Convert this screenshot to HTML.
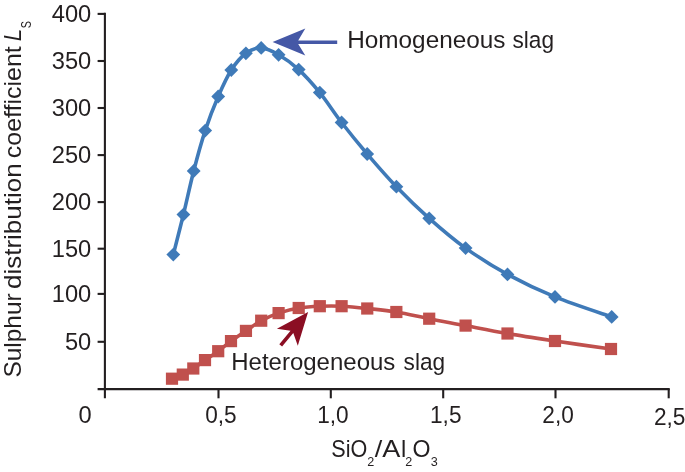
<!DOCTYPE html>
<html lang="en"><head><meta charset="utf-8"><title>Sulphur distribution coefficient</title>
<style>html,body{margin:0;padding:0;background:#fff}svg{display:block}</style></head>
<body>
<svg width="685" height="472" viewBox="0 0 685 472">
<rect width="685" height="472" fill="#fff"/>
<g stroke="#231f20" stroke-width="2.1" fill="none" stroke-linecap="butt">
<path d="M104.9 12.85V398.3"/>
<path d="M97.6 389.1H669.75"/>
<path d="M97.6 341.8H104.9"/>
<path d="M97.6 293.9H104.9"/>
<path d="M97.6 248.7H104.9"/>
<path d="M97.6 202.1H104.9"/>
<path d="M97.6 155.1H104.9"/>
<path d="M97.6 108.0H104.9"/>
<path d="M97.6 61.0H104.9"/>
<path d="M97.6 13.9H104.9"/>
<path d="M218.5 389.1V398.3"/>
<path d="M330.8 389.1V398.3"/>
<path d="M443.2 389.1V398.3"/>
<path d="M555.5 389.1V398.3"/>
<path d="M668.7 389.1V398.3"/>
</g>
<path d="M172.0 378.7C173.8 378.0 179.2 376.3 182.8 374.6C186.4 372.9 189.6 370.9 193.3 368.5C197.0 366.1 200.8 363.0 205.0 360.1C209.2 357.2 213.9 354.4 218.2 351.2C222.5 348.0 226.4 344.5 231.0 341.1C235.6 337.7 240.9 334.3 245.9 330.9C251.0 327.5 255.8 323.7 261.2 320.7C266.6 317.7 272.4 315.2 278.6 313.1C284.9 311.0 291.8 309.1 298.7 308.0C305.6 306.9 312.6 306.5 319.8 306.2C327.0 305.9 333.7 305.8 341.6 306.2C349.5 306.6 358.1 307.5 367.2 308.5C376.4 309.5 386.0 310.3 396.4 312.0C406.7 313.7 417.7 316.4 429.2 318.7C440.7 321.0 452.6 323.1 465.6 325.6C478.7 328.1 492.6 330.9 507.5 333.5C522.4 336.1 537.8 338.4 555.0 341.0C572.2 343.6 601.7 347.7 611.0 349.0" fill="none" stroke="#c0504d" stroke-width="3.6" stroke-linejoin="round"/>
<g fill="#c0504d">
<rect x="165.90" y="372.60" width="12.2" height="12.2"/>
<rect x="176.70" y="368.50" width="12.2" height="12.2"/>
<rect x="187.20" y="362.40" width="12.2" height="12.2"/>
<rect x="198.90" y="354.00" width="12.2" height="12.2"/>
<rect x="212.10" y="345.10" width="12.2" height="12.2"/>
<rect x="224.90" y="335.00" width="12.2" height="12.2"/>
<rect x="239.85" y="324.80" width="12.2" height="12.2"/>
<rect x="255.10" y="314.60" width="12.2" height="12.2"/>
<rect x="272.50" y="307.00" width="12.2" height="12.2"/>
<rect x="292.60" y="301.90" width="12.2" height="12.2"/>
<rect x="313.70" y="300.10" width="12.2" height="12.2"/>
<rect x="335.50" y="300.10" width="12.2" height="12.2"/>
<rect x="361.15" y="302.40" width="12.2" height="12.2"/>
<rect x="390.25" y="305.90" width="12.2" height="12.2"/>
<rect x="423.10" y="312.60" width="12.2" height="12.2"/>
<rect x="459.50" y="319.50" width="12.2" height="12.2"/>
<rect x="501.40" y="327.40" width="12.2" height="12.2"/>
<rect x="548.90" y="334.90" width="12.2" height="12.2"/>
<rect x="604.90" y="342.90" width="12.2" height="12.2"/>
</g>
<path d="M173.3 254.6C175.0 247.9 180.0 228.5 183.4 214.6C186.8 200.7 190.1 185.0 193.7 171.0C197.3 157.0 201.1 143.0 205.2 130.6C209.3 118.2 213.8 106.6 218.2 96.5C222.6 86.4 226.7 77.2 231.3 70.0C236.0 62.8 241.0 57.0 245.9 53.3C250.9 49.6 255.8 47.6 261.2 47.9C266.6 48.1 272.4 51.2 278.6 54.8C284.9 58.4 291.8 63.3 298.7 69.6C305.6 75.9 312.6 83.8 319.8 92.6C327.0 101.4 333.7 112.3 341.6 122.5C349.5 132.7 358.1 143.3 367.2 154.0C376.4 164.7 386.0 176.0 396.4 186.7C406.7 197.4 417.7 208.1 429.2 218.3C440.7 228.5 452.6 238.8 465.6 248.1C478.7 257.4 492.6 266.3 507.5 274.4C522.4 282.5 537.6 289.8 555.0 296.9C572.4 304.0 602.2 313.6 611.7 316.9" fill="none" stroke="#3f7ab8" stroke-width="3.6" stroke-linejoin="round"/>
<g fill="#3f7ab8">
<path d="M173.3 247.7l6.9 6.9l-6.9 6.9l-6.9 -6.9z"/>
<path d="M183.4 207.7l6.9 6.9l-6.9 6.9l-6.9 -6.9z"/>
<path d="M193.7 164.1l6.9 6.9l-6.9 6.9l-6.9 -6.9z"/>
<path d="M205.2 123.7l6.9 6.9l-6.9 6.9l-6.9 -6.9z"/>
<path d="M218.2 89.6l6.9 6.9l-6.9 6.9l-6.9 -6.9z"/>
<path d="M231.3 63.1l6.9 6.9l-6.9 6.9l-6.9 -6.9z"/>
<path d="M245.9 46.4l6.9 6.9l-6.9 6.9l-6.9 -6.9z"/>
<path d="M261.2 41.0l6.9 6.9l-6.9 6.9l-6.9 -6.9z"/>
<path d="M278.6 47.9l6.9 6.9l-6.9 6.9l-6.9 -6.9z"/>
<path d="M298.7 62.7l6.9 6.9l-6.9 6.9l-6.9 -6.9z"/>
<path d="M319.8 85.7l6.9 6.9l-6.9 6.9l-6.9 -6.9z"/>
<path d="M341.6 115.6l6.9 6.9l-6.9 6.9l-6.9 -6.9z"/>
<path d="M367.2 147.1l6.9 6.9l-6.9 6.9l-6.9 -6.9z"/>
<path d="M396.4 179.8l6.9 6.9l-6.9 6.9l-6.9 -6.9z"/>
<path d="M429.2 211.4l6.9 6.9l-6.9 6.9l-6.9 -6.9z"/>
<path d="M465.6 241.2l6.9 6.9l-6.9 6.9l-6.9 -6.9z"/>
<path d="M507.5 267.5l6.9 6.9l-6.9 6.9l-6.9 -6.9z"/>
<path d="M555.0 290.0l6.9 6.9l-6.9 6.9l-6.9 -6.9z"/>
<path d="M611.7 310.0l6.9 6.9l-6.9 6.9l-6.9 -6.9z"/>
</g>
<path d="M272.6 42.1L305.3 55.6L298.2 43.9L337.2 43.9L337.2 40.4L298.2 40.4L305.3 28.6z" fill="#4558a6"/>
<path d="M308.1 312.0L276.9 328.7L290.5 330.7L279.3 344.3L282.1 346.5L293.3 332.9L297.8 345.8z" fill="#8b0e23"/>
<g font-family="'Liberation Sans', Arial, sans-serif" font-size="23.7" fill="#231f20">
<text x="91.3" y="350.0" text-anchor="end">50</text>
<text x="91.3" y="302.1" text-anchor="end">100</text>
<text x="91.3" y="256.9" text-anchor="end">150</text>
<text x="91.3" y="210.3" text-anchor="end">200</text>
<text x="91.3" y="163.2" text-anchor="end">250</text>
<text x="91.3" y="116.2" text-anchor="end">300</text>
<text x="91.3" y="69.2" text-anchor="end">350</text>
<text x="91.3" y="22.1" text-anchor="end">400</text>
<text x="85" y="422.6" text-anchor="middle">0</text>
<text x="205.2" y="422.6" textLength="31.5" lengthAdjust="spacingAndGlyphs">0,5</text>
<text x="317.2" y="422.6" textLength="31.5" lengthAdjust="spacingAndGlyphs">1,0</text>
<text x="430.0" y="422.6" textLength="31.5" lengthAdjust="spacingAndGlyphs">1,5</text>
<text x="542.3" y="422.6" textLength="31.5" lengthAdjust="spacingAndGlyphs">2,0</text>
<text x="653.9" y="425.1" textLength="31.5" lengthAdjust="spacingAndGlyphs">2,5</text>
<text x="347.2" y="47.8" textLength="158.3" lengthAdjust="spacingAndGlyphs">Homogeneous</text>
<text x="512.5" y="47.8" textLength="41.5" lengthAdjust="spacingAndGlyphs">slag</text>
<text x="231.3" y="369.8" textLength="164" lengthAdjust="spacingAndGlyphs">Heterogeneous</text>
<text x="403.6" y="369.8" textLength="41.5" lengthAdjust="spacingAndGlyphs">slag</text>
<text x="331.3" y="456.6" textLength="36" lengthAdjust="spacingAndGlyphs">SiO</text>
<text x="367.2" y="466.1" font-size="12.6">2</text>
<text x="374.7" y="456.6" textLength="25.6" lengthAdjust="spacingAndGlyphs">/A</text>
<text x="401.1" y="456.6">l</text>
<text x="405.3" y="466.1" font-size="12.6">2</text>
<text x="412.5" y="456.6" textLength="18" lengthAdjust="spacingAndGlyphs">O</text>
<text x="430.8" y="466.1" font-size="12.6">3</text>
<text transform="translate(21.3 377.6) rotate(-90)" textLength="84.3" lengthAdjust="spacingAndGlyphs">Sulphur</text>
<text transform="translate(21.3 289.0) rotate(-90)" textLength="125.6" lengthAdjust="spacingAndGlyphs">distribution</text>
<text transform="translate(21.3 158.2) rotate(-90)" textLength="112.0" lengthAdjust="spacingAndGlyphs">coefficient</text>
<text transform="translate(21.3 41.2) rotate(-90)" textLength="12.5" lengthAdjust="spacingAndGlyphs" font-style="italic">L</text>
<text transform="translate(30.6 28.3) rotate(-90)" font-size="14.6" textLength="7.2" lengthAdjust="spacingAndGlyphs">S</text>
</g>
</svg>
</body></html>
